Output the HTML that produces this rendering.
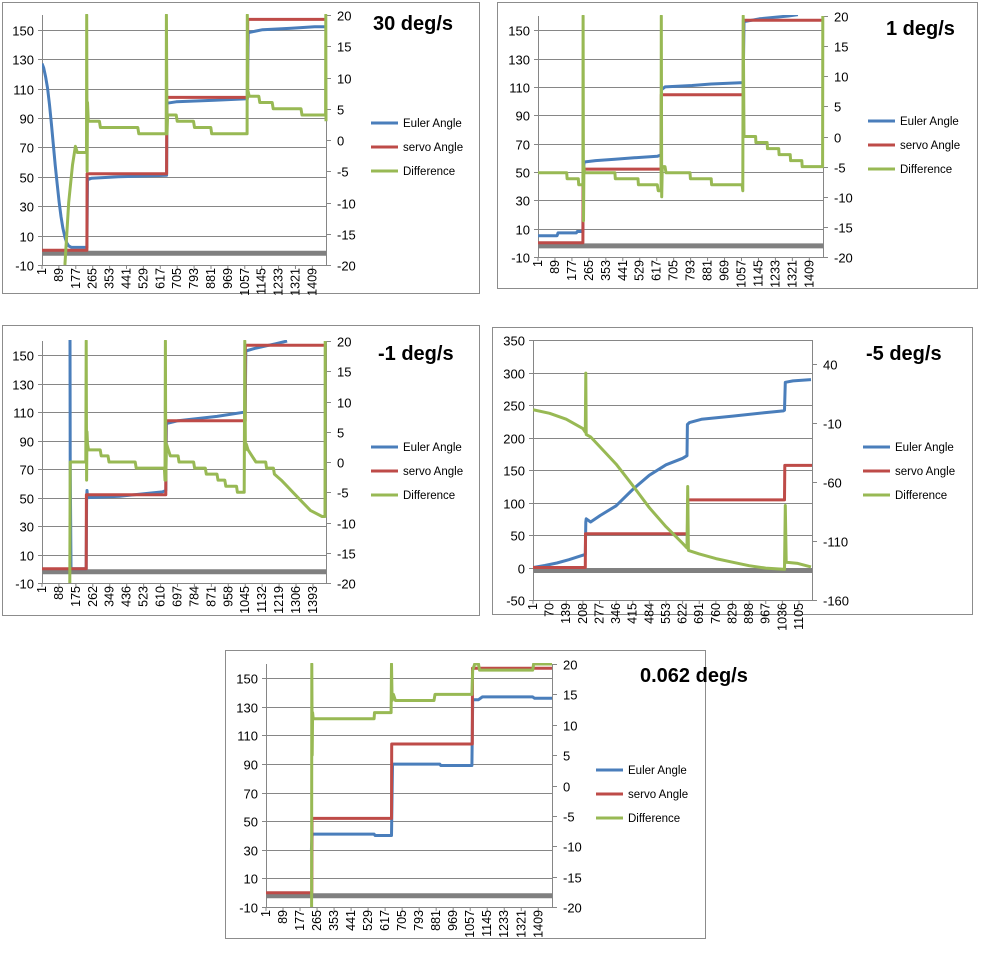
<!DOCTYPE html>
<html><head><meta charset="utf-8">
<style>
html,body{margin:0;padding:0;background:#fff;}
svg{display:block;font-family:"Liberation Sans",sans-serif;}
</style></head>
<body>
<svg id="root" width="1006" height="970" viewBox="0 0 1006 970"></svg>
<script>
// ---------- Chart 1: 30 deg/s ----------
const euler1 = [[1,127],[10,124],[20,118],[30,110],[40,99],[50,86],[60,72],[70,58],[80,45],[90,33],[100,23],[110,15],[120,9],[130,5],[140,3],[155,2],[235,2],[238,48],[260,49],[400,50],[650,51],[652,100],[700,101],[900,102],[1070,103],[1075,148],[1150,150],[1300,151],[1420,152],[1480,152]];
const servo1 = [[1,0],[235,0],[236,52],[650,52],[651,104],[1071,104],[1072,157],[1480,157]];
const diff1 = [[120,-20],[140,-10],[160,-4],[175,-1],[185,-2],[233,-2],[234,20],[236,-5],[238,6],[242,3],[300,3],[305,2],[500,2],[505,1],[648,1],[649,20],[652,1],[655,4],[700,4],[705,3],[790,3],[795,2],[880,2],[885,1],[1069,1],[1070,20],[1073,8],[1080,7],[1130,7],[1135,6],[1200,6],[1205,5],[1350,5],[1355,4],[1478,4],[1479,20],[1480,3]];
// ---------- Chart 2: 1 deg/s ----------
const euler2 = [[1,5],[100,5],[105,7],[200,7],[205,8],[234,8],[236,50],[240,57],[300,58],[400,59],[500,60],[620,61],[640,62],[642,108],[660,110],[800,111],[900,112],[1066,113],[1070,156],[1150,158],[1300,160],[1350,161]];
const servo2 = [[1,0],[234,0],[235,52],[640,52],[641,104.5],[1066,104.5],[1067,157],[1480,157]];
const diff2 = [[1,-6],[150,-6],[152,-7],[210,-7],[212,-8],[234,-8],[235,20],[237,-14],[239,-5],[242,-6],[400,-6],[402,-7],[520,-7],[522,-8],[620,-8],[625,-9],[640,-9],[641,20],[643,-10],[646,-5],[660,-5],[665,-6],[790,-6],[792,-7],[900,-7],[902,-8],[1060,-8],[1064,-9],[1066,20],[1070,0],[1130,0],[1132,-1],[1190,-1],[1192,-2],[1250,-2],[1252,-3],[1310,-3],[1312,-4],[1370,-4],[1372,-5],[1478,-5],[1479,20]];
// ---------- Chart 3: -1 deg/s ----------
const euler3 = [[145,165],[146,76],[150,0],[228,0],[230,48],[232,55],[235,50],[400,51],[550,53],[620,54],[637,55],[640,102],[700,104],[900,107],[1040,110],[1045,110],[1048,153],[1100,155],[1200,158],[1260,160]];
const servo3 = [[1,0],[228,0],[229,52],[637,52],[638,104],[1045,104],[1046,157],[1460,157]];
const diff3 = [[144,-20],[146,0],[226,0],[228,20],[230,-3],[232,5],[235,3],[240,2],[300,2],[305,1],[340,1],[345,0],[480,0],[485,-1],[630,-1],[633,-3],[635,20],[637,-3],[640,3],[660,1],[700,1],[705,0],[780,0],[785,-1],[840,-1],[845,-2],[900,-2],[905,-3],[940,-3],[945,-4],[1000,-4],[1005,-5],[1040,-5],[1043,20],[1046,2],[1050,3],[1060,2],[1100,0],[1150,0],[1155,-1],[1190,-1],[1195,-2],[1230,-3],[1260,-4],[1290,-5],[1320,-6],[1350,-7],[1380,-8],[1440,-9],[1455,-9],[1456,20]];
// ---------- Chart 4: -5 deg/s ----------
const euler4 = [[1,0],[50,3],[100,7],[150,12],[200,18],[218,20],[220,70],[222,75],[240,70],[280,80],[346,95],[415,120],[484,142],[553,158],[622,168],[640,172],[642,220],[650,223],[700,228],[830,233],[960,238],[1040,241],[1045,242],[1048,285],[1080,287],[1155,289]];
const servo4 = [[1,0],[218,0],[219,52],[642,52],[643,104],[1045,104],[1046,157],[1159,157]];
const diff4 = [[1,1],[70,-2],[139,-7],[208,-15],[218,-18],[220,32],[222,-20],[240,-22],[277,-30],[346,-45],[415,-63],[484,-82],[553,-98],[622,-112],[640,-116],[643,-64],[646,-118],[691,-121],[760,-125],[829,-128],[898,-131],[967,-133],[1040,-134],[1045,-134],[1048,-80],[1052,-128],[1100,-129],[1155,-132]];
// ---------- Chart 5: 0.062 deg/s ----------
const euler5 = [[236,30],[240,41],[560,41],[565,40],[650,40],[655,89],[660,90],[900,90],[905,89],[1066,89],[1070,135],[1100,135],[1120,137],[1380,137],[1390,136],[1480,136]];
const servo5 = [[1,0],[238,0],[239,52],[650,52],[651,104],[1068,104],[1069,157],[1480,157]];
const diff5 = [[237,-20],[238,20],[240,5],[242,12],[245,11],[560,11],[562,12],[640,12],[648,12],[650,20],[653,14],[660,15],[670,14],[870,14],[875,15],[1066,15],[1070,19],[1080,20],[1100,20],[1105,19],[1380,19],[1385,20],[1480,20]];

const NS='http://www.w3.org/2000/svg';
const root=document.getElementById('root');
function mk(tag,attrs,parent){const e=document.createElementNS(NS,tag);for(const k in attrs)e.setAttribute(k,attrs[k]);(parent||root).appendChild(e);return e;}

const charts=[
 {id:'c1',title:'30 deg/s',box:[2,2,477,291],L:42,R:326,T:15,B:265,lmin:-10,lmax:160,lt:[-10,150,20],rmin:-20,rmax:20,rt:[-20,20,5],xs:[1,1409,88],idxEnd:1480,lg:[371,123],tt:[373,30],e:euler1,s:servo1,d:diff1},
 {id:'c2',title:'1 deg/s',box:[497,2,480,286],L:538,R:823,T:16,B:257,lmin:-10,lmax:160,lt:[-10,150,20],rmin:-20,rmax:20,rt:[-20,20,5],xs:[1,1409,88],idxEnd:1480,lg:[868,121],tt:[886,35],e:euler2,s:servo2,d:diff2},
 {id:'c3',title:'-1 deg/s',box:[2,325,477,290],L:42,R:326,T:341,B:583,lmin:-10,lmax:160,lt:[-10,150,20],rmin:-20,rmax:20,rt:[-20,20,5],xs:[1,1393,87],idxEnd:1460,lg:[371,447],tt:[378,360],e:euler3,s:servo3,d:diff3},
 {id:'c4',title:'-5 deg/s',box:[492,327,480,287],L:533,R:812,T:340,B:600,lmin:-50,lmax:350,lt:[-50,350,50],rmin:-160,rmax:60,rt:[-160,40,50],xs:[1,1105,69],idxEnd:1159,lg:[863,447],tt:[866,360],e:euler4,s:servo4,d:diff4},
 {id:'c5',title:'0.062 deg/s',box:[225,650,480,288],L:266,R:552,T:664,B:907,lmin:-10,lmax:160,lt:[-10,150,20],rmin:-20,rmax:20,rt:[-20,20,5],xs:[1,1409,88],idxEnd:1480,lg:[596,770],tt:[640,682],e:euler5,s:servo5,d:diff5}
];

charts.forEach((c,ci)=>{
 const g=mk('g',{});
 
 
 const bx=mk('rect',{x:c.box[0]+0.5,y:c.box[1]+0.5,width:c.box[2],height:c.box[3],fill:'#fff',stroke:'#8c8c8c','stroke-width':1},g);
 
 
 const xS=i=>c.L+(i-1)*(c.R-c.L)/(c.idxEnd-1);
 const yL=v=>c.B-(v-c.lmin)*(c.B-c.T)/(c.lmax-c.lmin);
 const yR=v=>c.B-(v-c.rmin)*(c.B-c.T)/(c.rmax-c.rmin);
 for(let v=c.lt[0];v<=c.lt[1];v+=c.lt[2]){
  const y=Math.round(yL(v))+0.5;
  const gl=mk('line',{x1:c.L,x2:c.R,y1:y,y2:y,stroke:'#868686','stroke-width':1},g);
  
  
  mk('line',{x1:c.L-4,x2:c.L,y1:y,y2:y,stroke:'#868686'},g);
  const t=mk('text',{x:c.L-8,y:y+5,'text-anchor':'end','font-size':13,fill:'#000'},g);
  t.textContent=v;
  
  
 }
 for(let v=c.rt[0];v<=c.rt[1];v+=c.rt[2]){
  const y=Math.round(yR(v))+0.5;
  mk('line',{x1:c.R,x2:c.R+5,y1:y,y2:y,stroke:'#868686'},g);
  const t=mk('text',{x:c.R+11,y:y+5,'text-anchor':'start','font-size':13,fill:'#000'},g);
  t.textContent=v;
  
  
 }
 const la=mk('line',{x1:c.L+0.5,x2:c.L+0.5,y1:c.T,y2:c.B,stroke:'#868686'},g);
 
 
 const ra=mk('line',{x1:c.R+0.5,x2:c.R+0.5,y1:c.T,y2:c.B,stroke:'#868686'},g);
 
 
 for(let i=c.xs[0];i<=c.xs[1];i+=c.xs[2]){
  const x=xS(i);
  mk('line',{x1:x,x2:x,y1:c.B,y2:c.B+4,stroke:'#868686'},g);
  const t=mk('text',{x:0,y:0,'text-anchor':'end','font-size':12.5,fill:'#000',transform:`translate(${x+4},${c.B+3}) rotate(-90)`},g);
  t.textContent=i;
  
  
 }
 const cp=mk('clipPath',{id:'clip'+ci},g);
 mk('rect',{x:c.L,y:c.T-1,width:c.R-c.L+3,height:c.B-c.T+2},cp);
 const pg=mk('g',{'clip-path':`url(#clip${ci})`},g);
 const zero=mk('line',{x1:c.L,x2:c.R,y1:yL(0)+3,y2:yL(0)+3,stroke:'#808080','stroke-width':5},pg);
 
 
 const line=(arr,yf,col,name)=>{
  const p=mk('polyline',{points:arr.map(d=>xS(d[0]).toFixed(1)+','+yf(d[1]).toFixed(1)).join(' '),fill:'none',stroke:col,'stroke-width':3,'stroke-linejoin':'round'},pg);
  
  
 };
 line(c.e,yL,'#4a7ebb','euler-angle-line');
 line(c.s,yL,'#be4b48','servo-angle-line');
 line(c.d,yR,'#98b954','difference-line');
 const names=['Euler Angle','servo Angle','Difference'], cols=['#4a7ebb','#be4b48','#98b954'];
 names.forEach((n,k)=>{
  const y=c.lg[1]+k*24;
  const lg=mk('g',{},g);
  
  
  mk('line',{x1:c.lg[0],x2:c.lg[0]+27,y1:y,y2:y,stroke:cols[k],'stroke-width':3},lg);
  const t=mk('text',{x:c.lg[0]+32,y:y+4,'font-size':11.5,fill:'#000'},lg);
  t.textContent=n;
 });
 const tt=mk('text',{x:c.tt[0],y:c.tt[1],'font-size':20,'font-weight':'bold',fill:'#000'},g);
 tt.textContent=c.title;
 
 
});
</script>
</body></html>
